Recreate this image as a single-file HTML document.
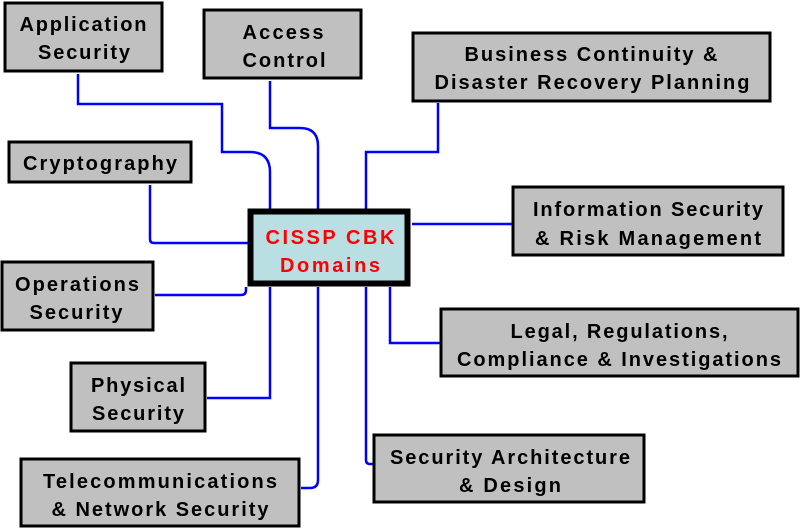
<!DOCTYPE html>
<html><head><meta charset="utf-8"><style>html,body{margin:0;padding:0;background:#fff}svg{display:block}</style></head>
<body>
<svg width="802" height="531" viewBox="0 0 802 531" xmlns="http://www.w3.org/2000/svg" font-family="Liberation Sans, Arial, sans-serif" font-weight="bold" font-size="20">
<g fill="none" stroke="#0000ff" stroke-width="2.5">
<path d="M78,74 V104 H222 V152 H250 Q270,152 270,172 V209"/>
<path d="M270,81 V128 H300 Q318,128 318,146 V209"/>
<path d="M150,185 V239 Q150,243 154,243 H248"/>
<path d="M155,295 H241 Q246,295 246,290 V287"/>
<path d="M207,398 H270 V287"/>
<path d="M301,488 H310 Q318,488 318,480 V287"/>
<path d="M366,287 V460 Q366,464 370,464 H373"/>
<path d="M390,287 V343 H440"/>
<path d="M412,224 H512"/>
<path d="M366,209 V152 H438 V103"/>
</g>
<g fill="#c0c0c0" stroke="#000" stroke-width="3">
<rect x="5" y="3" width="157" height="68"/>
<rect x="204" y="10" width="157" height="68"/>
<rect x="413" y="33" width="357" height="68"/>
<rect x="9" y="142" width="182" height="40"/>
<rect x="513" y="187" width="270" height="68"/>
<rect x="2" y="262" width="151" height="68"/>
<rect x="441" y="309" width="357" height="67"/>
<rect x="71" y="363" width="134" height="68"/>
<rect x="374" y="435" width="270" height="67"/>
<rect x="21" y="459" width="278" height="67"/>
</g>
<rect x="250.5" y="211.5" width="157" height="72" fill="#b9dfe3" stroke="#000" stroke-width="6"/>
<g fill="#000" text-anchor="middle">
<text x="83" y="31" textLength="127">Application</text>
<text x="84" y="59" textLength="92">Security</text>
<text x="283" y="39" textLength="81">Access</text>
<text x="284" y="67" textLength="83">Control</text>
<text x="591" y="61" textLength="253">Business Continuity &amp;</text>
<text x="592" y="89" textLength="315">Disaster Recovery Planning</text>
<text x="100" y="170" textLength="154">Cryptography</text>
<text x="648" y="216" textLength="230">Information Security</text>
<text x="648" y="245" textLength="226">&amp; Risk Management</text>
<text x="77" y="291" textLength="124">Operations</text>
<text x="76" y="319" textLength="93">Security</text>
<text x="619" y="338" textLength="217">Legal, Regulations,</text>
<text x="619" y="366" textLength="324">Compliance &amp; Investigations</text>
<text x="138" y="392" textLength="94">Physical</text>
<text x="138" y="420" textLength="92">Security</text>
<text x="510" y="464" textLength="240">Security Architecture</text>
<text x="510" y="492" textLength="102">&amp; Design</text>
<text x="160" y="488" textLength="234">Telecommunications</text>
<text x="160" y="516" textLength="217">&amp; Network Security</text>
</g>
<g fill="#ff0000" text-anchor="middle">
<text x="330" y="244" textLength="129">CISSP CBK</text>
<text x="330" y="272" textLength="100">Domains</text>
</g>
</svg>
</body></html>
